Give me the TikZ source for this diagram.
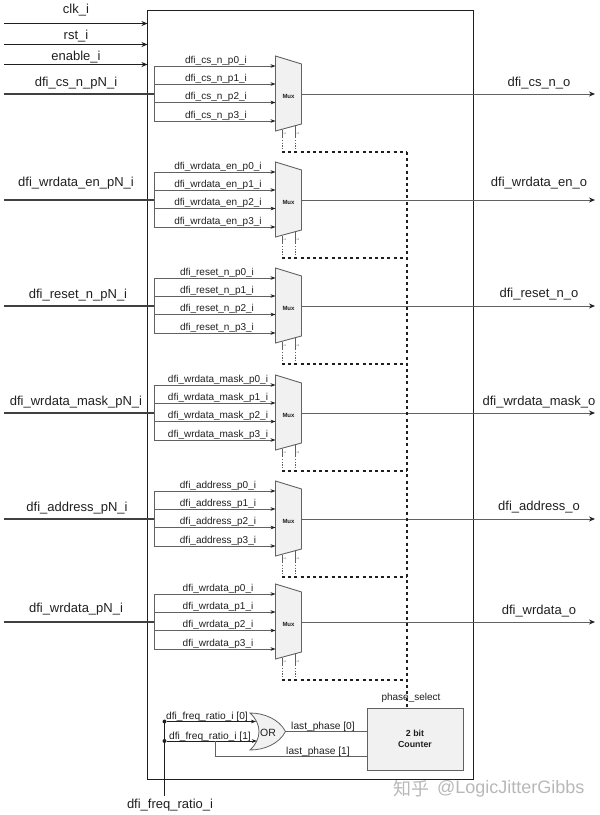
\documentclass[tikz,border=0pt]{standalone}
\usepackage{fontspec}
\setmainfont{Liberation Sans}
\newfontfamily\cjkwm{Noto Sans CJK SC}
\usetikzlibrary{arrows.meta}
\definecolor{ink}{gray}{0.12}
\definecolor{wire}{gray}{0.38}
\definecolor{muxfill}{gray}{0.945}
\tikzset{
  every node/.style={text=ink,inner sep=0pt,outer sep=0pt},
  biglab/.style={font=\fontsize{13}{15}\selectfont},
  smalllab/.style={font=\fontsize{10}{12}\selectfont},
  midlab/.style={font=\fontsize{10.2}{12}\selectfont},
  tipA/.style={-{Stealth[length=6pt,width=5pt,color=ink]}},
  tipB/.style={-{Stealth[length=5pt,width=3.6pt,color=ink]}},
  topwire/.style={line width=1.2pt,color=ink,tipA},
  buswire/.style={line width=1.4pt,color=ink!85!white},
  inwire/.style={line width=0.75pt,color=wire,tipB},
  outwire/.style={line width=0.8pt,color=wire,tipA},
  muxbody/.style={draw=wire,fill=muxfill,line width=0.9pt},
  muxtext/.style={font=\fontsize{6}{7}\bfseries\selectfont},
  tinytext/.style={font=\fontsize{2.5}{3}\selectfont,text=wire},
  selstub/.style={line width=0.7pt,color=wire},
  seldot/.style={line width=0.8pt,color=wire,dash pattern=on 1.2pt off 1.6pt},
  seldash/.style={line width=1.3pt,color=ink,dash pattern=on 3pt off 3.2pt},
  gatewire/.style={line width=0.8pt,color=wire},
  dotmark/.style={circle,fill=ink,minimum size=4pt}
}
\begin{document}
\begin{tikzpicture}[x=1pt,y=-1pt]
\useasboundingbox (0,0) rectangle (600,815);
% outer block
\node[draw=ink,line width=1pt,minimum width=326pt,minimum height=769pt] (outer) at (310.5,394.5) {};
% top inputs
\foreach \n/\lab/\ly/\wy in {clk/clk\_i/10/23.5,rst/rst\_i/36/44.5,en/enable\_i/57/64.5}{
  \node[biglab] (\n lab) at (76,\ly) {\lab};
  \coordinate (\n a) at (4,\wy);
  \coordinate (\n b) at (147.5,\wy);
  \draw[topwire] (\n a) -- (\n b);
}
% mux channels
\foreach \b/\t/\pre/\lx/\blx/\bly/\blab/\olx/\oly/\olab in {
 1/56/dfi\_cs\_n/216/76/83/dfi\_cs\_n\_pN\_i/539/83/dfi\_cs\_n\_o,
 2/162/dfi\_wrdata\_en/218/76/183/dfi\_wrdata\_en\_pN\_i/539/183/dfi\_wrdata\_en\_o,
 3/268/dfi\_reset\_n/217/78/295/dfi\_reset\_n\_pN\_i/539/294/dfi\_reset\_n\_o,
 4/375/dfi\_wrdata\_mask/218/76/402/dfi\_wrdata\_mask\_pN\_i/539/402/dfi\_wrdata\_mask\_o,
 5/481/dfi\_address/218/77/508/dfi\_address\_pN\_i/539/507/dfi\_address\_o,
 6/584/dfi\_wrdata/218/76/609/dfi\_wrdata\_pN\_i/539/611/dfi\_wrdata\_o}{
  \coordinate (tl\b) at (275.5,\t);
  \coordinate (tr\b) at (301.5,\t+8);
  \coordinate (br\b) at (301.5,\t+68);
  \coordinate (bl\b) at (275.5,\t+75);
  \draw[muxbody] (tl\b) -- (tr\b) -- (br\b) -- (bl\b) -- cycle;
  \node[muxtext] (mux\b) at (288.5,\t+40.5) {Mux};
  % bus in and out
  \coordinate (busa\b) at (4,\t+38);
  \coordinate (bus\b) at (154,\t+38);
  \coordinate (out\b) at (301.5,\t+38);
  \coordinate (outend\b) at (595,\t+38);
  \draw[buswire] (busa\b) -- (bus\b);
  \draw[outwire] (out\b) -- (outend\b);
  \node[biglab] (inlab\b) at (\blx,\bly) {\blab};
  \node[biglab] (outlab\b) at (\olx,\oly) {\olab};
  % four phase inputs
  \foreach \i/\dy/\ldy in {0/10/4.5,1/28/22.5,2/46.5/41,3/65/59.5}{
    \coordinate (in\b\i) at (275.5,\t+\dy);
    \draw[inwire] (bus\b) |- (in\b\i);
    \node[smalllab] (plab\b\i) at (\lx,\t+\ldy) {\pre\_p\i\_i};
  }
  % select stubs
  \coordinate (sa\b) at (282,\t+73.5);
  \coordinate (sb\b) at (295,\t+69.5);
  \coordinate (sam\b) at (282,\t+81);
  \coordinate (sbm\b) at (295,\t+81);
  \coordinate (sae\b) at (282,\t+96);
  \coordinate (sbe\b) at (295,\t+96);
  \coordinate (dr\b) at (407,\t+96);
  \draw[selstub] (sa\b) -- (sam\b);
  \draw[selstub] (sb\b) -- (sbm\b);
  \draw[seldot] (sam\b) -- (sae\b);
  \draw[seldot] (sbm\b) -- (sbe\b);
  \draw[seldash] (sae\b) -- (dr\b);
  \node[tinytext] (sal\b) at (285,\t+78) {s1};
  \node[tinytext] (sbl\b) at (298,\t+78) {s0};
}
% counter
\node[draw=wire,fill=muxfill,line width=1pt,minimum width=96pt,minimum height=62pt,align=center,font=\fontsize{8.8}{11}\bfseries\selectfont] (counter) at (415,739) {2 bit\\Counter};
\node[font=\fontsize{10}{12}\selectfont] (phase) at (411,697.5) {phase\_select};
\coordinate (cup) at (407,152);
\coordinate (cdown) at (407,708);
\draw[seldash] (cup) -- (cdown);
% OR gate
\coordinate (gt) at (250,713);
\coordinate (gb) at (250,750);
\coordinate (gtip) at (285.5,731.5);
\draw[draw=wire,fill=muxfill,line width=0.8pt]
  (gt) .. controls (264,713) and (279,719) .. (gtip)
  .. controls (279,744) and (264,750) .. (gb)
  .. controls (262,739) and (262,724) .. (gt) -- cycle;
\node[font=\fontsize{10.5}{12}\selectfont] (or) at (268,732.5) {OR};
% frequency ratio bus
\coordinate (fb) at (164.5,796);
\coordinate (ft) at (164.5,721.5);
\node[dotmark] (d0) at (164.5,721.5) {};
\node[dotmark] (d1) at (164.5,741) {};
\draw[line width=1.6pt,color=ink] (fb) -- (ft);
\coordinate (g0) at (256,721.5);
\coordinate (g1) at (257,741);
\draw[line width=0.9pt,color=ink,tipB] (d0) -- (g0);
\draw[line width=0.9pt,color=ink,tipB] (d1) -- (g1);
\node[midlab] (f0) at (207,716.5) {dfi\_freq\_ratio\_i [0]};
\node[midlab] (f1) at (210,736.5) {dfi\_freq\_ratio\_i [1]};
\node[biglab] (flab) at (170,805.5) {dfi\_freq\_ratio\_i};
% last phase
\coordinate (c0) at (367,731.5);
\coordinate (c1) at (367,756.5);
\coordinate (j1) at (215,741);
\draw[gatewire] (gtip) -- (c0);
\draw[gatewire] (j1) |- (c1);
\node[midlab] (l0) at (323,726.5) {last\_phase [0]};
\node[midlab] (l1) at (318,751.5) {last\_phase [1]};
% watermark
\node[anchor=west,font=\fontsize{18}{20}\selectfont\cjkwm,text=black!28] (wm1) at (393,789) {知乎};
\node[anchor=west,font=\fontsize{18}{20}\selectfont,text=black!28] (wm2) at (437,789) {@LogicJitterGibbs};
\end{tikzpicture}
\end{document}
